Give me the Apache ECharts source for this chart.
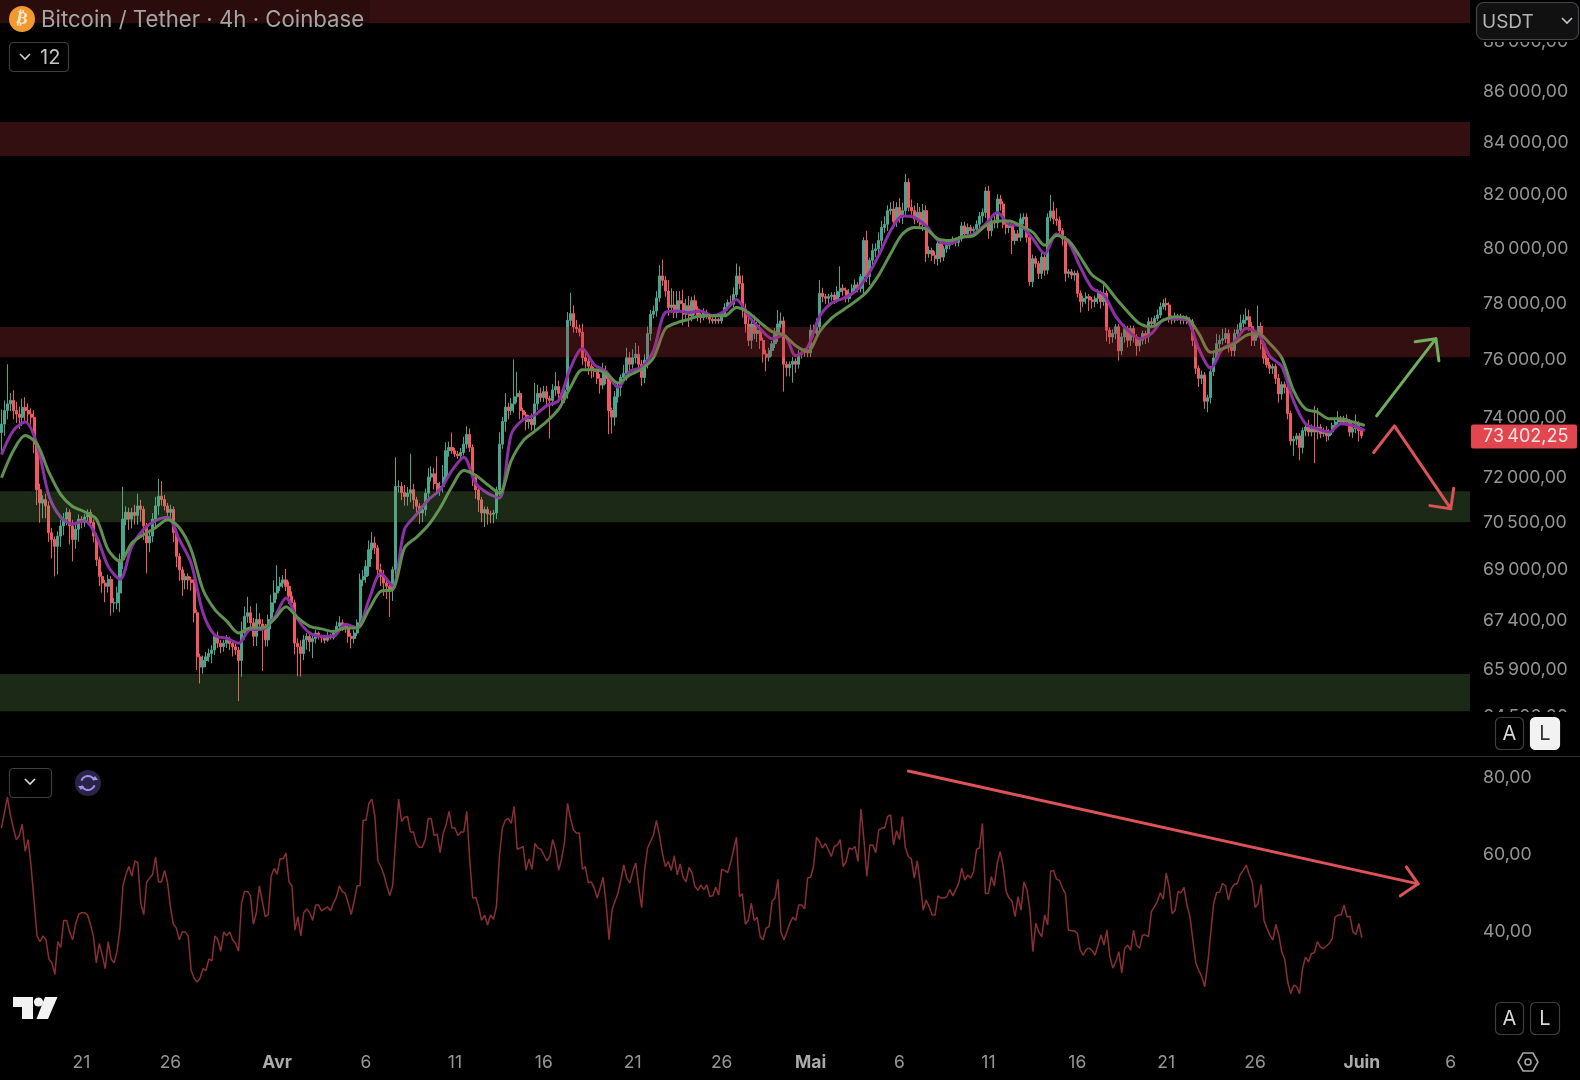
<!DOCTYPE html>
<html>
<head>
<meta charset="utf-8">
<title>Bitcoin / Tether 4h</title>
<script src="https://cdn.jsdelivr.net/npm/echarts@6/dist/echarts.min.js"></script>
<style>html,body{margin:0;padding:0;background:#000}#chart{width:1580px;height:1080px}</style>
</head>
<body>
<div id="chart"></div>
<script>
// Closing price of every 4h bar
const closes = [
73790,74250,74480,74600,74250,74130,74020,74360,74250,74130,
74020,73110,71590,71160,71260,71060,70190,69970,69750,70080,
70410,70630,70850,70410,69970,70300,70630,70530,70700,70850,
70520,70080,69320,68790,68580,68480,68700,67960,67960,68270,
69320,70630,70850,70630,70850,70750,71060,70950,70410,69860,
70080,70630,71060,71380,71270,71060,70850,70950,70190,69430,
69000,68680,68790,68680,68600,67650,66290,65980,66180,66290,
66390,66500,66920,66710,66600,66710,66810,66700,66600,66500,
66180,67020,67540,67650,67340,66920,67440,67300,67200,66810,
67440,67960,68270,68480,68580,68680,68480,68170,67960,66710,
66600,66390,66810,66920,66750,66850,67020,66920,66870,66800,
66950,66870,67020,67230,67340,67230,67180,66920,66850,67020,
67340,68680,68790,69110,69640,69860,69700,69000,68790,68580,
68480,68370,69000,71700,71700,71500,71370,71480,71590,71260,
71050,70830,70940,71480,72010,72120,71800,71590,71700,72010,
72890,73000,72890,72780,72720,72830,73110,73440,73000,72010,
71590,71260,70830,70940,70800,70790,70830,71590,73110,73880,
74370,74250,74480,74720,74840,74250,74100,73880,73950,73770,
74480,74840,74700,74900,74660,74600,74960,75080,74840,74660,
74960,77400,77640,77160,77100,76980,76080,75960,75780,75660,
75600,75360,75130,75600,75360,74250,74030,74720,75050,75390,
75530,76080,75850,76080,76200,75850,75390,76000,76930,77620,
77730,78200,79000,78840,78450,77860,77950,77680,78100,78000,
77620,77920,77560,78100,77800,77560,77500,77680,77560,77440,
77380,77440,77380,77620,77860,78040,77980,78330,79000,78720,
77800,77270,76690,77270,76930,77050,76690,76210,76100,76330,
76570,76930,77270,77380,75850,75730,75850,75960,75850,76200,
76260,76320,76250,77050,76950,77170,78370,78250,78190,78250,
78310,78130,78430,78550,78480,78190,78370,78550,78670,78550,
78970,80300,78970,79570,79930,79990,80300,80780,80900,81410,
81470,81000,81530,81160,81410,82480,81530,81410,81100,81350,
80900,81410,79810,79930,79750,79630,80180,79690,79990,80120,
80240,80300,80230,80360,80840,80540,80780,80660,80720,80900,
81210,81340,82150,80660,81020,80950,81850,81660,80900,80780,
80840,80300,80540,80420,81100,81160,80420,78790,79630,79450,
79090,79690,79210,81160,81400,81100,81040,80660,80360,79090,
79150,79030,79100,78370,78070,78190,78250,78130,78070,78190,
78370,78070,78370,77050,76810,76930,77170,76320,76810,77110,
76690,77110,76810,76500,76690,76930,76810,77350,77290,77470,
77590,77890,78010,77950,77470,77410,77530,77530,77410,77480,
77410,77350,76690,75710,75360,75480,74570,74690,75590,76070,
76570,76690,76750,76930,76460,76330,76930,77060,77300,77410,
77530,77180,76690,76930,77180,76570,76070,75830,75710,75770,
75360,74820,75150,75040,74150,73220,73280,73390,73000,73570,
73690,73520,73630,73520,73690,73460,73570,73390,73520,73740,
73860,73970,73860,73920,73860,73520,73630,73740,73570,73402.25
];
const firstOpen = 73500;

// Upper wick of every bar, in dollars above the body
const wickUp = [
500,350,1370,250,350,300,250,300,350,250,
200,250,150,200,150,200,150,150,100,150,
200,200,150,100,200,150,150,100,100,100,
100,100,100,100,150,100,150,100,150,200,
200,1060,200,150,150,250,400,200,100,100,
200,200,300,570,500,150,100,150,100,100,
100,100,100,100,100,100,100,100,150,150,
150,150,100,150,100,100,150,100,100,100,
100,350,300,500,200,150,500,200,150,100,
150,250,400,670,200,150,350,150,150,100,
150,200,150,100,100,150,100,50,50,50,
100,50,100,150,200,100,100,100,100,100,
100,200,200,200,300,350,200,100,200,200,
150,100,100,970,200,150,250,200,1200,200,
100,100,100,150,300,250,200,900,150,400,
280,200,500,100,100,150,250,280,200,100,
100,100,100,100,100,100,100,100,400,150,
480,150,200,1300,750,100,100,100,150,200,
720,300,200,200,200,100,200,500,200,100,
100,300,750,300,250,150,300,200,100,100,
100,100,150,300,200,100,100,200,150,100,
300,350,200,300,400,300,150,200,250,150,
200,250,400,600,150,400,600,500,350,350,
500,250,350,150,200,100,100,150,100,100,
100,100,50,100,150,100,250,250,450,350,
300,200,350,200,300,300,200,100,150,100,
100,200,500,300,150,100,100,150,100,150,
100,100,100,200,200,300,480,200,100,100,
100,100,200,800,150,100,150,150,200,100,
100,120,360,100,250,200,300,250,300,200,
250,300,200,350,300,320,150,300,200,350,
200,250,200,150,100,150,200,150,100,150,
100,150,100,100,150,150,150,100,100,150,
150,150,150,200,200,200,180,150,100,150,
150,100,150,150,200,150,150,100,150,100,
100,150,100,150,600,350,400,150,100,100,
100,100,100,100,100,100,150,100,100,100,
150,100,300,100,100,150,100,100,150,150,
100,100,100,100,100,100,100,150,150,100,
200,150,150,200,100,100,150,100,100,100,
100,100,100,100,100,150,100,100,200,200,
350,200,350,200,150,150,150,200,300,200,
300,250,150,150,750,150,100,100,100,100,
100,150,100,100,100,100,100,100,100,100,
100,250,150,780,650,100,100,150,100,100,
150,260,100,150,200,100,100,380,150,100
];

// Lower wick of every bar, in dollars below the body
const wickDown = [
700,400,300,250,300,300,400,300,350,300,
250,300,500,650,500,400,300,600,960,900,
350,300,200,600,700,300,400,200,150,200,
150,200,200,300,300,500,200,400,300,200,
600,300,200,350,300,300,300,400,450,970,
300,200,300,300,200,150,150,200,300,350,
350,500,300,300,250,300,400,500,200,200,
150,300,150,150,200,150,150,200,300,150,
1230,500,200,200,150,300,300,150,1340,200,
200,300,300,200,150,150,150,250,250,350,
900,700,200,300,300,500,150,100,150,100,
50,50,50,100,100,150,150,200,300,150,
100,100,200,200,300,300,200,250,300,400,
400,850,350,300,200,250,300,300,300,300,
300,350,300,200,150,150,200,100,200,200,
200,200,100,100,100,100,100,150,150,300,
300,400,300,450,350,300,300,200,200,150,
350,300,150,300,200,300,200,300,250,200,
200,200,150,150,250,1300,200,200,300,300,
150,300,200,200,150,150,250,250,300,300,
200,200,300,150,200,800,560,300,200,300,
200,250,250,150,200,200,300,200,300,250,
150,200,150,200,200,300,200,200,200,300,
400,200,400,200,200,200,200,100,100,150,
100,100,100,100,100,100,100,100,100,200,
300,300,200,300,200,300,300,300,500,150,
200,150,300,150,950,300,300,640,300,150,
150,150,150,150,150,200,150,200,200,200,
150,150,100,200,200,150,150,100,150,150,
150,720,200,300,200,250,300,250,200,250,
150,250,200,200,250,200,150,150,200,150,
150,250,300,150,200,200,250,200,150,150,
150,100,150,150,100,150,150,150,100,150,
200,250,200,300,200,200,200,250,150,250,
200,500,150,150,150,200,200,150,200,150,
200,200,200,150,150,200,200,200,250,300,
150,150,200,150,390,200,200,400,250,200,
200,250,150,400,250,200,200,340,150,200,
250,200,200,350,200,150,250,200,150,150,
100,100,100,200,150,150,100,150,150,150,
150,150,200,200,300,200,260,380,200,150,
150,200,150,150,200,200,200,150,100,150,
150,150,200,200,150,200,200,100,200,200,
200,300,200,200,200,150,500,200,430,200,
200,150,150,1050,250,150,100,200,150,100,
100,100,100,100,100,150,200,150,370,100
];

// Fast moving average, one reading every four bars
const maFast = [
72760,73570,73860,73110,71400,70690,70470,70580,70080,69110,
68700,69750,70300,70580,70690,69970,69210,67650,66950,66860,
66710,67130,67130,67490,68110,67440,67020,66920,66920,67290,
67180,68060,68890,68480,70300,70780,71260,71590,72230,72670,
71800,71480,71320,73440,73940,74100,74420,74600,75720,76400,
75840,75600,75050,75600,75750,76330,77680,77730,77680,77730,
77560,77730,78150,77560,77100,76750,76870,76150,76450,77530,
78010,78190,78430,78970,79750,80660,81210,81160,80840,80300,
80180,80420,80540,80900,81340,80900,80840,80360,79810,80540,
80240,79330,78550,78310,77530,77050,76750,76930,77410,77470,
77410,76390,75710,76390,76630,77120,76930,76130,75770,74570,
73800,73630,73520,73800,73740,73570
];

// Slow moving average, one reading every four bars
const maSlow = [
71990,72890,73400,73110,72170,71430,71040,70870,70630,69640,
69270,69860,70130,70350,70610,70350,69640,68370,67750,67390,
67020,67180,67180,67440,67840,67490,67230,67150,67070,67180,
67180,67750,68320,68370,69700,70040,70430,70990,71700,72230,
72070,71760,71480,72560,73220,73550,73880,74300,75050,75660,
75660,75540,75200,75480,75680,76080,77100,77320,77440,77560,
77560,77560,77860,77680,77320,77000,76870,76500,76300,76990,
77470,77770,78070,78430,79030,79810,80540,80780,80720,80360,
80300,80420,80480,80840,81020,81020,80840,80600,80120,80480,
80300,79690,79030,78730,78190,77710,77290,77170,77410,77530,
77480,76930,76270,76390,76570,76870,76930,76570,76070,74930,
74310,74200,73970,73970,73860,73740
];
const maStep = 4;

// Oscillator reading of every bar
const rsi = [
67,71,75,70.4,67,64,65,68,61,64,
57,48,39,37.5,39,38,33,32,29,37.5,
36,43,43,40,38,42,44.5,45,45,44.5,
42,39,32,37,34,30.5,37.5,33,32,35,
41,52,55,57,54.5,58.5,58,47.5,44.5,53,
54,55,59.5,53,53,56,53,46.5,42,41,
38,40,40,39,30,28,27,28,30.5,30,
33,32.5,39,38,35,40,39,40,38,37,
35,47.5,50.5,50.5,49.5,42,45,52,48,44,
44.5,54.5,56.5,55,59,59,60.5,53,52,40.5,
44,39,45,46,45,43,47,47,45.5,46,
46.5,45.5,47.5,49,52,50.5,50,47.5,44.5,48,
52,52,69,69,73.5,74.5,70,58.5,57,55,
52,49.5,52,64,74.5,
68.7,69.8,70,66,66,63,62,62,64,69.5,
69.4,65,65.5,60.6,65.5,67.8,71.3,67,67,65,
66,66,71.3,58.7,48.8,49,46.6,43,44.4,41.8,
44.4,43.3,46.6,59.6,67,69,69.5,68.2,72.6,61.5,
61.8,62.2,56,59,56.3,63,61.8,61.5,60,58.5,
59.6,64,61.3,56,59,63.5,73.4,69.5,66.5,65.7,
65.7,56.3,57,52.8,53,51.4,48.8,51.4,54.2,47.5,
38,45.7,48,50,53.5,57.4,54,52.7,55.7,57.9,
51.8,46.3,56,61.8,63.5,65.2,69,65.2,60.5,57,
58.3,56,59.8,54.8,57.7,54.2,53,56.8,55.3,51.8,
50.8,52.2,51,52.2,49.2,49.4,51.6,49.6,56.3,56,
55.4,57.9,61.3,64.6,49.2,49.9,42,43,47.5,43,
43.8,38.8,38,41,41.4,48,48.8,53.7,40,38,
40,42.3,43.8,43,47,
47,46,54,54.2,57,64.6,63.5,61.8,63,61.3,
59.6,62.2,62.6,64,57,58.3,61.8,61.5,62.2,58.3,
72,64,54.4,62.6,62.6,60.6,66.5,67,67,70,
70.4,62.6,66.3,64,70,61.8,59.6,59,54,58.5,
52.7,45.7,48.3,46.6,44.4,44.4,49.4,48.8,48.8,49.2,
51,49.4,51,52.7,56.6,53.5,54.8,54,55.7,61.5,
61.8,68.2,50,50,54.4,52,57.9,60.9,57,50.5,
48.8,47.9,44,49.2,45.7,53,51,45.7,34.9,42.3,
40,38.8,44.4,41.8,55.7,56,53.7,53.4,51.4,50,
40.5,40.3,40.3,39.7,35.3,34,35.5,35.8,35.2,34,
36.6,39.2,36.6,40.5,33.6,30.6,32.3,34.9,29.3,35.8,
36.6,35.3,40.5,36.6,35.8,39.2,39.2,38.8,45.3,46.6,
47.9,50.2,48.5,55.3,51.8,44.7,45.7,50.5,50.2,51.6,
47,44,37.9,32,30,28.4,25.8,31.8,39.6,47.4,
50.2,50.4,52.6,52,48.3,51.3,52.4,52.6,55,56,
57.4,55,53,46.4,47.4,52.4,43,40.9,39.2,37.9,
42,39.2,34.8,32.9,27,24,26.2,25.8,24,30.5,
33.5,32.2,34.4,34.6,37.5,36.1,35.7,36.3,37,38.3,
43.9,44.4,44.4,47,43.9,44.1,40,39.4,42.2,38.5
];

// Time axis: the scale runs past the last bar, only some bars carry a label
const axisBars = 496;
const timeTickBars = [27, 57, 93, 123, 153, 183, 213, 243, 273, 303, 333, 363, 393, 423, 459, 489];
const timeTickTexts = ['21', '26', 'Avr', '6', '11', '16', '21', '26', 'Mai', '6', '11', '16', '21', '26', 'Juin', '6'];
const monthTexts = ['Avr', 'Mai', 'Juin'];

// Price and oscillator scale labels
const priceTicks = [88000, 86000, 84000, 82000, 80000, 78000, 76000, 74000, 72000, 70500, 69000, 67400, 65900, 64500];
const rsiTicks = [80, 60, 40];
const lastPrice = 73402.25;

// Horizontal supply (red) and demand (green) zones: [lower, upper, colour]
const zoneLows = [88750, 83480, 76100, 70530, 64650];
const zoneHighs = [90500, 84800, 77160, 71540, 65770];
const zoneColors = ['rgba(180,53,60,0.29)', 'rgba(180,53,60,0.29)', 'rgba(180,53,60,0.29)', 'rgba(112,172,92,0.24)', 'rgba(112,172,92,0.24)'];

// Hand-drawn scenario arrows, as [bar, price] or [bar, reading] vertices
const bullArrow = [[464, 74070], [484, 76750]];
const bullHead = [[477, 76640], [484, 76750], [485, 75970]];
const bearArrow = [[463, 72830], [470, 73730], [489, 70970]];
const bearHead = [[482, 71070], [489, 70970], [490, 71640]];
const rsiArrow = [[306, 81.8], [478, 52.5]];
const rsiHead = [[474, 56.9], [478, 52.5], [472, 49.4]];

const GREEN_ARROW = '#6fb05f';
const RED_ARROW = '#dc5257';
const FONT = 'Inter, "Noto Sans", sans-serif';
const LABEL_GREY = '#959595';

function frNumber(v) {
  const fixed = v.toFixed(2).split('.');
  const whole = fixed[0].replace(/\B(?=(\d{3})+$)/g, '\u202f');
  return whole + ',' + fixed[1];
}

const candles = closes.map((c, i) => {
  const o = i ? closes[i - 1] : firstOpen;
  return [o, c, Math.min(o, c) - wickDown[i], Math.max(o, c) + wickUp[i]];
});
const barNames = Array.from({ length: axisBars }, (_, i) => String(i));

const polylineItem = (api, pts, color, width) => ({
  type: 'polyline',
  shape: { points: pts.map(p => api.coord(p)) },
  style: { fill: 'none', stroke: color, lineWidth: width, lineJoin: 'round', lineCap: 'round' }
});

function arrowSeries(axisIndex, shapes) {
  return {
    type: 'custom', coordinateSystem: 'cartesian2d', xAxisIndex: axisIndex, yAxisIndex: axisIndex,
    z: 6, silent: true, clip: false, data: [0], encode: { x: 0 },
    renderItem: (params, api) => ({
      type: 'group',
      children: shapes.map(s => polylineItem(api, s.pts, s.color, 3))
    })
  };
}

const option = {
  backgroundColor: '#000',
  animation: false,
  textStyle: { fontFamily: FONT },
  grid: [
    { left: 0, top: 0, width: 1470, height: 720 },
    { left: 0, top: 757, width: 1470, height: 288 }
  ],
  xAxis: [
    { type: 'category', gridIndex: 0, data: barNames, axisLine: { show: false }, axisTick: { show: false }, axisLabel: { show: false }, splitLine: { show: false } },
    {
      type: 'category', gridIndex: 1, data: barNames, axisLine: { show: false }, axisTick: { show: false }, splitLine: { show: false },
      axisLabel: {
        show: true, margin: 9, color: LABEL_GREY, fontSize: 17.5, fontFamily: FONT,
        interval: idx => timeTickBars.includes(idx),
        formatter: (value, idx) => {
          const t = timeTickTexts[timeTickBars.indexOf(Number(value))];
          if (t === undefined) return '';
          return monthTexts.includes(t) ? '{m|' + t + '}' : t;
        },
        rich: { m: { color: '#ababab', fontSize: 17.5, fontWeight: 700, fontFamily: FONT } }
      }
    }
  ],
  yAxis: [
    {
      type: 'log', logBase: Math.E, gridIndex: 0, position: 'right', min: 64390, max: 89702, scale: true,
      axisLine: { show: false }, axisTick: { show: false }, splitLine: { show: false },
      axisLabel: { customValues: priceTicks, margin: 13, padding: [3, 0, 0, 0], color: LABEL_GREY, fontSize: 17.7, fontFamily: FONT, formatter: v => frNumber(Number(v)) }
    },
    {
      type: 'value', gridIndex: 1, position: 'right', min: 10.65, max: 85.45,
      axisLine: { show: false }, axisTick: { show: false }, splitLine: { show: false },
      axisLabel: { customValues: rsiTicks, margin: 13, padding: [4, 0, 0, 0], color: LABEL_GREY, fontSize: 17.7, fontFamily: FONT, formatter: v => frNumber(Number(v)) }
    }
  ],
  series: [
    {
      type: 'candlestick', name: 'BTCUSDT', xAxisIndex: 0, yAxisIndex: 0, data: candles, barWidth: 2.6, z: 2,
      itemStyle: { color: '#4aa58f', color0: '#ee5a5f', borderColor: '#4aa58f', borderColor0: '#ee5a5f', borderWidth: 1 }
    },
    {
      type: 'line', name: 'MM rapide', xAxisIndex: 0, yAxisIndex: 0, data: maFast.map((v, k) => [k * maStep, v]),
      showSymbol: false, smooth: 0.3, z: 3, lineStyle: { color: '#8b30a5', width: 3 }
    },
    {
      type: 'line', name: 'MM lente', xAxisIndex: 0, yAxisIndex: 0, data: maSlow.map((v, k) => [k * maStep, v]),
      showSymbol: false, smooth: 0.3, z: 3, lineStyle: { color: '#5f9050', width: 3 }
    },
    {
      // Zones sit over the candles and tint them
      type: 'custom', name: 'Zones', coordinateSystem: 'cartesian2d', xAxisIndex: 0, yAxisIndex: 0, z: 4, silent: true, clip: true,
      data: zoneLows.map((_, i) => [i]), encode: { x: 0 },
      renderItem: (params, api) => {
        const i = params.dataIndex;
        const top = api.coord([0, zoneHighs[i]])[1];
        const bottom = api.coord([0, zoneLows[i]])[1];
        return { type: 'rect', shape: { x: params.coordSys.x, y: top, width: params.coordSys.width, height: bottom - top }, style: { fill: zoneColors[i] } };
      }
    },
    arrowSeries(0, [
      { pts: bullArrow, color: GREEN_ARROW }, { pts: bullHead, color: GREEN_ARROW },
      { pts: bearArrow, color: RED_ARROW }, { pts: bearHead, color: RED_ARROW }
    ]),
    {
      // Last price tag on the scale
      type: 'custom', name: 'Dernier', coordinateSystem: 'cartesian2d', xAxisIndex: 0, yAxisIndex: 0, z: 7, silent: true, clip: false,
      data: [[0, lastPrice]], encode: { x: 0, y: 1 },
      renderItem: (params, api) => {
        const y = api.coord([0, api.value(1)])[1] + 1;
        return {
          type: 'group', children: [
            { type: 'rect', shape: { x: 1471, y: y - 12, width: 106, height: 24, r: 2 }, style: { fill: '#e2474f' } },
            { type: 'text', style: { x: 1483, y: y, text: frNumber(lastPrice), fill: '#f7e4e4', font: '18px ' + FONT, verticalAlign: 'middle' } }
          ]
        };
      }
    },
    {
      type: 'line', name: 'RSI', xAxisIndex: 1, yAxisIndex: 1, data: rsi, showSymbol: false, z: 3,
      lineStyle: { color: '#8a2f36', width: 1.5 }
    },
    arrowSeries(1, [{ pts: rsiArrow, color: RED_ARROW }, { pts: rsiHead, color: RED_ARROW }])
  ],
  graphic: { elements: buildChrome() }
};

// Toolbar furniture around the panes: header, buttons, logo
function buildChrome() {
  const stroke = '#3d3d3f';
  const btn = (x, y, w, h, label, solid) => [
    { type: 'rect', z: 20, shape: { x, y, width: w, height: h, r: 5 }, style: { fill: solid ? '#f2f2f2' : '#000', stroke: solid ? '#f2f2f2' : stroke, lineWidth: 1.2 } },
    { type: 'text', z: 21, style: { x: x + w / 2, y: y + h / 2, text: label, fill: solid ? '#333' : '#d8d8d8', font: '20px ' + FONT, align: 'center', verticalAlign: 'middle' } }
  ];
  const chevron = (cx, cy, color) => ({ type: 'polyline', z: 21, shape: { points: [[cx - 5, cy - 3], [cx, cy + 2], [cx + 5, cy - 3]] }, style: { fill: 'none', stroke: color, lineWidth: 1.6 } });
  return [
    { type: 'rect', z: 10, shape: { x: 0, y: 712, width: 1580, height: 44 }, style: { fill: '#000' } },
    { type: 'rect', z: 10, shape: { x: 0, y: 756, width: 1580, height: 1 }, style: { fill: '#333337' } },
    { type: 'rect', z: 10, shape: { x: 0, y: 0, width: 370, height: 23 }, style: { fill: 'rgba(0,0,0,0.18)' } },
    { type: 'circle', z: 20, shape: { cx: 22, cy: 19, r: 13 }, style: { fill: '#f0992e' } },
    { type: 'text', z: 21, rotation: -0.2, originX: 22, originY: 19, style: { x: 22, y: 19, text: '\u20bf', fill: '#f7e6cf', font: 'bold 17px "DejaVu Sans"', align: 'center', verticalAlign: 'middle' } },
    { type: 'text', z: 21, style: { x: 41, y: 20, text: 'Bitcoin / Tether \u00b7 4h \u00b7 Coinbase', fill: '#a4a4a4', font: '22.2px ' + FONT, verticalAlign: 'middle' } },
    { type: 'rect', z: 20, shape: { x: 9.5, y: 42.5, width: 59, height: 29, r: 4 }, style: { fill: '#000', stroke, lineWidth: 1.2 } },
    chevron(25, 57, '#cfcfcf'),
    { type: 'text', z: 21, style: { x: 40, y: 58, text: '12', fill: '#c4c4c4', font: '20px ' + FONT, verticalAlign: 'middle' } },
    { type: 'rect', z: 19, shape: { x: 1471, y: 0, width: 109, height: 42 }, style: { fill: '#000' } },
    { type: 'rect', z: 20, shape: { x: 1476.5, y: 2.5, width: 102, height: 37, r: 7 }, style: { fill: '#111112', stroke: '#454547', lineWidth: 1.2 } },
    { type: 'text', z: 21, style: { x: 1482, y: 22, text: 'USDT', fill: '#b4b4b4', font: '19px ' + FONT, verticalAlign: 'middle' } },
    chevron(1567, 21, '#c8c8c8'),
    ...btn(1495.5, 717.5, 28, 32, 'A', false),
    ...btn(1530.5, 717.5, 29, 32, 'L', true),
    ...btn(1495.5, 1002.5, 28, 32, 'A', false),
    ...btn(1530.5, 1002.5, 29, 32, 'L', false),
    { type: 'rect', z: 20, shape: { x: 9.5, y: 768.5, width: 42, height: 29, r: 4 }, style: { fill: '#000', stroke, lineWidth: 1.2 } },
    chevron(30, 782, '#dcdcdc'),
    { type: 'circle', z: 20, shape: { cx: 88, cy: 783, r: 13 }, style: { fill: '#2a2546' } },
    { type: 'arc', z: 21, shape: { cx: 88, cy: 783, r: 7, startAngle: 3.5, endAngle: 5.9 }, style: { fill: 'none', stroke: '#a48ff0', lineWidth: 2 } },
    { type: 'arc', z: 21, shape: { cx: 88, cy: 783, r: 7, startAngle: 0.35, endAngle: 2.75 }, style: { fill: 'none', stroke: '#a48ff0', lineWidth: 2 } },
    { type: 'polygon', z: 21, shape: { points: [[92, 780], [98, 780], [95, 776]] }, style: { fill: '#a48ff0' } },
    { type: 'polygon', z: 21, shape: { points: [[78, 786], [84, 786], [81, 790]] }, style: { fill: '#a48ff0' } },
    { type: 'polygon', z: 20, shape: { points: [[13, 997], [33, 997], [33, 1019], [22, 1019], [22, 1007], [13, 1007]] }, style: { fill: '#f2f2f2' } },
    { type: 'circle', z: 20, shape: { cx: 38.5, cy: 1002, r: 4.6 }, style: { fill: '#f2f2f2' } },
    { type: 'polygon', z: 20, shape: { points: [[45, 997], [57.5, 997], [48, 1019], [36.5, 1019]] }, style: { fill: '#f2f2f2' } },
    { type: 'polygon', z: 20, shape: { points: [[1518, 1062], [1523, 1053], [1533, 1053], [1538, 1062], [1533, 1071], [1523, 1071]] }, style: { fill: 'none', stroke: '#a8a8a8', lineWidth: 1.6 } },
    { type: 'circle', z: 20, shape: { cx: 1528, cy: 1062, r: 3 }, style: { fill: 'none', stroke: '#a8a8a8', lineWidth: 1.6 } }
  ];
}

const chart = echarts.init(document.getElementById('chart'), null, { renderer: 'canvas' });
chart.setOption(option);
</script>
</body>
</html>
